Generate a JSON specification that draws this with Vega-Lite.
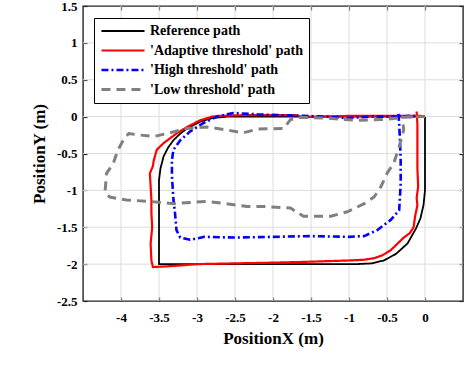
{
  "$schema": "https://vega.github.io/schema/vega-lite/v6.json",
  "width": 380,
  "height": 295,
  "autosize": "none",
  "padding": {"left": 83, "top": 6, "right": 11, "bottom": 76},
  "background": "white",
  "config": {
    "view": {"stroke": "#262626", "strokeWidth": 1.4},
    "font": "Liberation Serif",
    "axis": {
      "labelFont": "Liberation Serif",
      "labelFontWeight": "bold",
      "labelFontSize": 13,
      "labelColor": "black",
      "titleFont": "Liberation Serif",
      "titleFontWeight": "bold",
      "titleFontSize": 17,
      "titleColor": "black",
      "tickColor": "#262626",
      "tickWidth": 1.2,
      "tickSize": 4,
      "offset": -4,
      "domain": false,
      "grid": false
    }
  },
  "datasets": {
    "gridx": [{"gx": -4}, {"gx": -3.5}, {"gx": -3}, {"gx": -2.5}, {"gx": -2}, {"gx": -1.5}, {"gx": -1}, {"gx": -0.5}, {"gx": 0}],
    "gridy": [{"gy": -2}, {"gy": -1.5}, {"gy": -1}, {"gy": -0.5}, {"gy": 0}, {"gy": 0.5}, {"gy": 1}],
    "paths": [
    {"path": "Reference path", "i": 1, "x": 0, "y": 0},
    {"path": "Reference path", "i": 2, "x": 0, "y": -0.5},
    {"path": "Reference path", "i": 3, "x": 0, "y": -1.0},
    {"path": "Reference path", "i": 4, "x": -0.02, "y": -1.2},
    {"path": "Reference path", "i": 5, "x": -0.06, "y": -1.38},
    {"path": "Reference path", "i": 6, "x": -0.12, "y": -1.52},
    {"path": "Reference path", "i": 7, "x": -0.23, "y": -1.72},
    {"path": "Reference path", "i": 8, "x": -0.38, "y": -1.86},
    {"path": "Reference path", "i": 9, "x": -0.54, "y": -1.95},
    {"path": "Reference path", "i": 10, "x": -0.7, "y": -1.99},
    {"path": "Reference path", "i": 11, "x": -0.9, "y": -2.0},
    {"path": "Reference path", "i": 12, "x": -1.5, "y": -2.0},
    {"path": "Reference path", "i": 13, "x": -2.5, "y": -2.0},
    {"path": "Reference path", "i": 14, "x": -3.5, "y": -2.0},
    {"path": "Reference path", "i": 15, "x": -3.5, "y": -1.5},
    {"path": "Reference path", "i": 16, "x": -3.5, "y": -0.86},
    {"path": "Reference path", "i": 17, "x": -3.48, "y": -0.7},
    {"path": "Reference path", "i": 18, "x": -3.44, "y": -0.54},
    {"path": "Reference path", "i": 19, "x": -3.38, "y": -0.42},
    {"path": "Reference path", "i": 20, "x": -3.31, "y": -0.32},
    {"path": "Reference path", "i": 21, "x": -3.22, "y": -0.23},
    {"path": "Reference path", "i": 22, "x": -3.13, "y": -0.16},
    {"path": "Reference path", "i": 23, "x": -2.96, "y": -0.07},
    {"path": "Reference path", "i": 24, "x": -2.8, "y": -0.02},
    {"path": "Reference path", "i": 25, "x": -2.6, "y": 0},
    {"path": "Reference path", "i": 26, "x": -1.5, "y": 0},
    {"path": "Reference path", "i": 27, "x": 0, "y": 0},

    {"path": "'Adaptive threshold' path", "i": 1, "x": -0.11, "y": 0.07},
    {"path": "'Adaptive threshold' path", "i": 2, "x": -0.1, "y": -0.1},
    {"path": "'Adaptive threshold' path", "i": 3, "x": -0.1, "y": -0.4},
    {"path": "'Adaptive threshold' path", "i": 4, "x": -0.1, "y": -0.7},
    {"path": "'Adaptive threshold' path", "i": 5, "x": -0.09, "y": -0.95},
    {"path": "'Adaptive threshold' path", "i": 6, "x": -0.11, "y": -1.1},
    {"path": "'Adaptive threshold' path", "i": 7, "x": -0.1, "y": -1.2},
    {"path": "'Adaptive threshold' path", "i": 8, "x": -0.13, "y": -1.35},
    {"path": "'Adaptive threshold' path", "i": 9, "x": -0.15, "y": -1.5},
    {"path": "'Adaptive threshold' path", "i": 10, "x": -0.2, "y": -1.58},
    {"path": "'Adaptive threshold' path", "i": 11, "x": -0.28, "y": -1.64},
    {"path": "'Adaptive threshold' path", "i": 12, "x": -0.36, "y": -1.72},
    {"path": "'Adaptive threshold' path", "i": 13, "x": -0.45, "y": -1.81},
    {"path": "'Adaptive threshold' path", "i": 14, "x": -0.56, "y": -1.88},
    {"path": "'Adaptive threshold' path", "i": 15, "x": -0.67, "y": -1.92},
    {"path": "'Adaptive threshold' path", "i": 16, "x": -0.8, "y": -1.94},
    {"path": "'Adaptive threshold' path", "i": 17, "x": -0.98, "y": -1.95},
    {"path": "'Adaptive threshold' path", "i": 18, "x": -1.3, "y": -1.96},
    {"path": "'Adaptive threshold' path", "i": 19, "x": -1.6, "y": -1.97},
    {"path": "'Adaptive threshold' path", "i": 20, "x": -2.0, "y": -1.98},
    {"path": "'Adaptive threshold' path", "i": 21, "x": -2.5, "y": -1.99},
    {"path": "'Adaptive threshold' path", "i": 22, "x": -3.0, "y": -2.0},
    {"path": "'Adaptive threshold' path", "i": 23, "x": -3.25, "y": -2.02},
    {"path": "'Adaptive threshold' path", "i": 24, "x": -3.4, "y": -2.03},
    {"path": "'Adaptive threshold' path", "i": 25, "x": -3.58, "y": -2.04},
    {"path": "'Adaptive threshold' path", "i": 26, "x": -3.6, "y": -1.95},
    {"path": "'Adaptive threshold' path", "i": 27, "x": -3.61, "y": -1.72},
    {"path": "'Adaptive threshold' path", "i": 28, "x": -3.59, "y": -1.5},
    {"path": "'Adaptive threshold' path", "i": 29, "x": -3.6, "y": -1.3},
    {"path": "'Adaptive threshold' path", "i": 30, "x": -3.6, "y": -1.13},
    {"path": "'Adaptive threshold' path", "i": 31, "x": -3.61, "y": -0.95},
    {"path": "'Adaptive threshold' path", "i": 32, "x": -3.62, "y": -0.77},
    {"path": "'Adaptive threshold' path", "i": 33, "x": -3.58, "y": -0.67},
    {"path": "'Adaptive threshold' path", "i": 34, "x": -3.57, "y": -0.6},
    {"path": "'Adaptive threshold' path", "i": 35, "x": -3.53, "y": -0.45},
    {"path": "'Adaptive threshold' path", "i": 36, "x": -3.47, "y": -0.39},
    {"path": "'Adaptive threshold' path", "i": 37, "x": -3.44, "y": -0.36},
    {"path": "'Adaptive threshold' path", "i": 38, "x": -3.35, "y": -0.29},
    {"path": "'Adaptive threshold' path", "i": 39, "x": -3.27, "y": -0.23},
    {"path": "'Adaptive threshold' path", "i": 40, "x": -3.13, "y": -0.14},
    {"path": "'Adaptive threshold' path", "i": 41, "x": -2.96, "y": -0.05},
    {"path": "'Adaptive threshold' path", "i": 42, "x": -2.8, "y": 0.0},
    {"path": "'Adaptive threshold' path", "i": 43, "x": -2.7, "y": 0.01},
    {"path": "'Adaptive threshold' path", "i": 44, "x": -2.4, "y": 0.02},
    {"path": "'Adaptive threshold' path", "i": 45, "x": -2.0, "y": 0.02},
    {"path": "'Adaptive threshold' path", "i": 46, "x": -1.7, "y": 0.02},
    {"path": "'Adaptive threshold' path", "i": 47, "x": -1.6, "y": -0.01},
    {"path": "'Adaptive threshold' path", "i": 48, "x": -1.4, "y": 0.0},
    {"path": "'Adaptive threshold' path", "i": 49, "x": -1.0, "y": 0.01},
    {"path": "'Adaptive threshold' path", "i": 50, "x": -0.6, "y": 0.01},
    {"path": "'Adaptive threshold' path", "i": 51, "x": -0.3, "y": 0.01},
    {"path": "'Adaptive threshold' path", "i": 52, "x": -0.05, "y": 0.01},

    {"path": "'High threshold' path", "i": 1, "x": 0, "y": 0},
    {"path": "'High threshold' path", "i": 2, "x": -0.2, "y": 0.01},
    {"path": "'High threshold' path", "i": 3, "x": -0.33, "y": 0.0},
    {"path": "'High threshold' path", "i": 4, "x": -0.35, "y": 0.05},
    {"path": "'High threshold' path", "i": 5, "x": -0.34, "y": -0.1},
    {"path": "'High threshold' path", "i": 6, "x": -0.33, "y": -0.3},
    {"path": "'High threshold' path", "i": 7, "x": -0.32, "y": -0.6},
    {"path": "'High threshold' path", "i": 8, "x": -0.32, "y": -0.9},
    {"path": "'High threshold' path", "i": 9, "x": -0.33, "y": -1.1},
    {"path": "'High threshold' path", "i": 10, "x": -0.34, "y": -1.27},
    {"path": "'High threshold' path", "i": 11, "x": -0.45, "y": -1.4},
    {"path": "'High threshold' path", "i": 12, "x": -0.63, "y": -1.54},
    {"path": "'High threshold' path", "i": 13, "x": -0.8, "y": -1.62},
    {"path": "'High threshold' path", "i": 14, "x": -1.0, "y": -1.63},
    {"path": "'High threshold' path", "i": 15, "x": -1.5, "y": -1.62},
    {"path": "'High threshold' path", "i": 16, "x": -2.0, "y": -1.63},
    {"path": "'High threshold' path", "i": 17, "x": -2.5, "y": -1.64},
    {"path": "'High threshold' path", "i": 18, "x": -2.9, "y": -1.63},
    {"path": "'High threshold' path", "i": 19, "x": -3.09, "y": -1.67},
    {"path": "'High threshold' path", "i": 20, "x": -3.22, "y": -1.64},
    {"path": "'High threshold' path", "i": 21, "x": -3.27, "y": -1.54},
    {"path": "'High threshold' path", "i": 22, "x": -3.29, "y": -1.3},
    {"path": "'High threshold' path", "i": 23, "x": -3.31, "y": -1.13},
    {"path": "'High threshold' path", "i": 24, "x": -3.33, "y": -0.8},
    {"path": "'High threshold' path", "i": 25, "x": -3.33, "y": -0.59},
    {"path": "'High threshold' path", "i": 26, "x": -3.31, "y": -0.45},
    {"path": "'High threshold' path", "i": 27, "x": -3.22, "y": -0.32},
    {"path": "'High threshold' path", "i": 28, "x": -3.09, "y": -0.2},
    {"path": "'High threshold' path", "i": 29, "x": -2.92, "y": -0.09},
    {"path": "'High threshold' path", "i": 30, "x": -2.74, "y": 0.0},
    {"path": "'High threshold' path", "i": 31, "x": -2.52, "y": 0.05},
    {"path": "'High threshold' path", "i": 32, "x": -2.2, "y": 0.03},
    {"path": "'High threshold' path", "i": 33, "x": -1.9, "y": 0.02},
    {"path": "'High threshold' path", "i": 34, "x": -1.6, "y": 0.01},
    {"path": "'High threshold' path", "i": 35, "x": -1.3, "y": 0.0},
    {"path": "'High threshold' path", "i": 36, "x": -1.05, "y": -0.02},
    {"path": "'High threshold' path", "i": 37, "x": -0.7, "y": 0.0},
    {"path": "'High threshold' path", "i": 38, "x": -0.35, "y": 0.0},

    {"path": "'Low threshold' path", "i": 1, "x": 0, "y": 0},
    {"path": "'Low threshold' path", "i": 2, "x": -0.15, "y": 0.0},
    {"path": "'Low threshold' path", "i": 3, "x": -0.3, "y": -0.01},
    {"path": "'Low threshold' path", "i": 4, "x": -0.28, "y": -0.18},
    {"path": "'Low threshold' path", "i": 5, "x": -0.34, "y": -0.41},
    {"path": "'Low threshold' path", "i": 6, "x": -0.41, "y": -0.63},
    {"path": "'Low threshold' path", "i": 7, "x": -0.5, "y": -0.77},
    {"path": "'Low threshold' path", "i": 8, "x": -0.58, "y": -0.95},
    {"path": "'Low threshold' path", "i": 9, "x": -0.67, "y": -1.09},
    {"path": "'Low threshold' path", "i": 10, "x": -0.8, "y": -1.18},
    {"path": "'Low threshold' path", "i": 11, "x": -1.02, "y": -1.29},
    {"path": "'Low threshold' path", "i": 12, "x": -1.24, "y": -1.35},
    {"path": "'Low threshold' path", "i": 13, "x": -1.6, "y": -1.35},
    {"path": "'Low threshold' path", "i": 14, "x": -1.77, "y": -1.24},
    {"path": "'Low threshold' path", "i": 15, "x": -2.08, "y": -1.22},
    {"path": "'Low threshold' path", "i": 16, "x": -2.34, "y": -1.22},
    {"path": "'Low threshold' path", "i": 17, "x": -2.61, "y": -1.18},
    {"path": "'Low threshold' path", "i": 18, "x": -2.87, "y": -1.15},
    {"path": "'Low threshold' path", "i": 19, "x": -3.31, "y": -1.18},
    {"path": "'Low threshold' path", "i": 20, "x": -3.62, "y": -1.15},
    {"path": "'Low threshold' path", "i": 21, "x": -3.93, "y": -1.13},
    {"path": "'Low threshold' path", "i": 22, "x": -4.15, "y": -1.09},
    {"path": "'Low threshold' path", "i": 23, "x": -4.21, "y": -1.02},
    {"path": "'Low threshold' path", "i": 24, "x": -4.19, "y": -0.77},
    {"path": "'Low threshold' path", "i": 25, "x": -4.1, "y": -0.63},
    {"path": "'Low threshold' path", "i": 26, "x": -4.04, "y": -0.45},
    {"path": "'Low threshold' path", "i": 27, "x": -3.97, "y": -0.32},
    {"path": "'Low threshold' path", "i": 28, "x": -3.9, "y": -0.23},
    {"path": "'Low threshold' path", "i": 29, "x": -3.75, "y": -0.25},
    {"path": "'Low threshold' path", "i": 30, "x": -3.57, "y": -0.27},
    {"path": "'Low threshold' path", "i": 31, "x": -3.4, "y": -0.23},
    {"path": "'Low threshold' path", "i": 32, "x": -3.13, "y": -0.16},
    {"path": "'Low threshold' path", "i": 33, "x": -2.87, "y": -0.14},
    {"path": "'Low threshold' path", "i": 34, "x": -2.61, "y": -0.18},
    {"path": "'Low threshold' path", "i": 35, "x": -2.39, "y": -0.22},
    {"path": "'Low threshold' path", "i": 36, "x": -2.21, "y": -0.17},
    {"path": "'Low threshold' path", "i": 37, "x": -1.86, "y": -0.16},
    {"path": "'Low threshold' path", "i": 38, "x": -1.77, "y": -0.04},
    {"path": "'Low threshold' path", "i": 39, "x": -1.64, "y": -0.01},
    {"path": "'Low threshold' path", "i": 40, "x": -1.3, "y": -0.02},
    {"path": "'Low threshold' path", "i": 41, "x": -1.07, "y": -0.04},
    {"path": "'Low threshold' path", "i": 42, "x": -0.9, "y": -0.05},
    {"path": "'Low threshold' path", "i": 43, "x": -0.54, "y": -0.04},
    {"path": "'Low threshold' path", "i": 44, "x": -0.3, "y": -0.01},
    {"path": "'Low threshold' path", "i": 45, "x": 0, "y": 0}
  ]},
  "resolve": {"axis": {"x": "independent", "y": "independent"}},
  "layer": [
    {
      "data": {"name": "gridx"},
      "mark": {"type": "rule", "color": "#dcdcdc", "strokeWidth": 1},
      "encoding": {
        "x": {"field": "gx", "type": "quantitative", "scale": {"domain": [-4.5, 0.5], "nice": false, "zero": false}, "axis": null}
      }
    },
    {
      "data": {"name": "gridy"},
      "mark": {"type": "rule", "color": "#dcdcdc", "strokeWidth": 1},
      "encoding": {
        "y": {"field": "gy", "type": "quantitative", "scale": {"domain": [-2.5, 1.5], "nice": false, "zero": false}, "axis": null}
      }
    },
    {
      "data": {"name": "paths"},
      "mark": {"type": "line", "strokeJoin": "round"},
      "encoding": {
        "x": {"field": "x", "type": "quantitative", "scale": {"domain": [-4.5, 0.5], "nice": false, "zero": false},
          "axis": {"orient": "bottom", "title": "PositionX (m)", "values": [-4, -3.5, -3, -2.5, -2, -1.5, -1, -0.5, 0], "labelExpr": "datum.value + ''", "labelPadding": 10, "titlePadding": 6}},
        "y": {"field": "y", "type": "quantitative", "scale": {"domain": [-2.5, 1.5], "nice": false, "zero": false},
          "axis": {"orient": "left", "title": "PositionY (m)", "values": [-2.5, -2, -1.5, -1, -0.5, 0, 0.5, 1, 1.5], "labelExpr": "datum.value + ''", "labelPadding": 6, "titlePadding": 8}},
        "order": {"field": "i"},
        "color": {"field": "path", "type": "nominal",
          "scale": {"domain": ["Reference path", "'Adaptive threshold' path", "'High threshold' path", "'Low threshold' path"],
                    "range": ["#000000", "#ff0000", "#0000ff", "#808080"]},
          "legend": {"title": null, "orient": "none", "legendX": 11, "legendY": 12, "symbolType": "M-4,0H4", "symbolSize": 116, "symbolStrokeWidth": 2.5, "symbolOffset": 16,
                     "labelFont": "Liberation Serif", "labelFontWeight": "bold", "labelFontSize": 14, "labelColor": "black",
                     "strokeColor": "black", "fillColor": "white", "padding": 6, "rowPadding": 5.5, "labelOffset": 20, "labelLimit": 300}},
        "strokeDash": {"field": "path", "type": "nominal",
          "scale": {"domain": ["Reference path", "'Adaptive threshold' path", "'High threshold' path", "'Low threshold' path"],
                    "range": [[1, 0], [1, 0], [7, 3, 2, 3], [9, 6]]},
          "legend": {"title": null, "orient": "none", "legendX": 11, "legendY": 12, "symbolType": "M-4,0H4", "symbolSize": 116, "symbolStrokeWidth": 2.5, "symbolOffset": 16,
                     "labelFont": "Liberation Serif", "labelFontWeight": "bold", "labelFontSize": 14, "labelColor": "black",
                     "strokeColor": "black", "fillColor": "white", "padding": 6, "rowPadding": 5.5, "labelOffset": 20, "labelLimit": 300}},
        "strokeWidth": {"field": "path", "type": "nominal",
          "scale": {"domain": ["Reference path", "'Adaptive threshold' path", "'High threshold' path", "'Low threshold' path"],
                    "range": [1.8, 3, 2.6, 2.6]},
          "legend": null}
      }
    },
    {
      "data": {"name": "paths"},
      "mark": {"type": "line", "opacity": 0},
      "encoding": {
        "x": {"field": "x", "type": "quantitative", "scale": {"domain": [-4.5, 0.5], "nice": false, "zero": false},
          "axis": {"orient": "top", "labels": false, "title": null, "values": [-4, -3.5, -3, -2.5, -2, -1.5, -1, -0.5, 0]}},
        "y": {"field": "y", "type": "quantitative", "scale": {"domain": [-2.5, 1.5], "nice": false, "zero": false},
          "axis": {"orient": "right", "labels": false, "title": null, "values": [-2.5, -2, -1.5, -1, -0.5, 0, 0.5, 1, 1.5]}},
        "detail": {"field": "path"},
        "order": {"field": "i"}
      }
    }
  ]
}
